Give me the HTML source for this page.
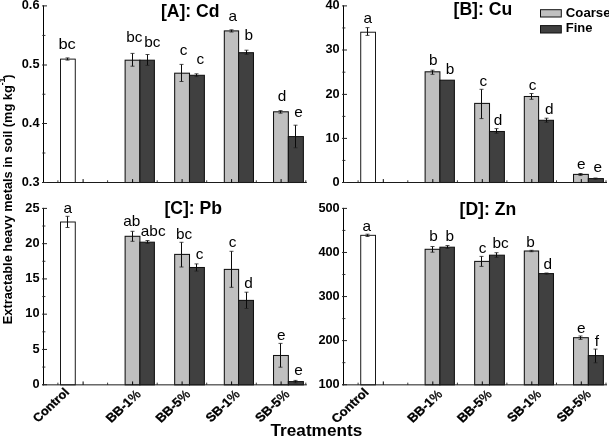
<!DOCTYPE html>
<html lang="en"><head><meta charset="utf-8"><title>Extractable heavy metals in soil</title>
<style>
html,body{margin:0;padding:0;background:#fff;}
body{width:609px;height:436px;overflow:hidden;}
svg{display:block;font-family:"Liberation Sans",Arial,Helvetica,sans-serif;fill:#000;}
</style></head><body>
<svg width="609" height="436" viewBox="0 0 609 436">
<rect width="609" height="436" fill="#fff"/>
<rect x="60.55" y="59.10" width="14.70" height="123.40" fill="#fff" stroke="#000" stroke-width="0.9"/>
<line x1="67.50" y1="57.90" x2="67.50" y2="60.10" stroke="#0a0a0a" stroke-width="1"/>
<line x1="65.50" y1="57.90" x2="69.50" y2="57.90" stroke="#222" stroke-width="0.8"/>
<line x1="65.50" y1="60.10" x2="69.50" y2="60.10" stroke="#222" stroke-width="0.8"/>
<rect x="125.12" y="60.20" width="14.78" height="122.30" fill="#c0c0c0" stroke="#111" stroke-width="1.05"/>
<rect x="139.90" y="60.20" width="14.48" height="122.30" fill="#404040" stroke="#111" stroke-width="1.05"/>
<line x1="132.50" y1="53.40" x2="132.50" y2="66.20" stroke="#0a0a0a" stroke-width="1"/>
<line x1="130.50" y1="53.40" x2="134.50" y2="53.40" stroke="#222" stroke-width="0.8"/>
<line x1="130.50" y1="66.20" x2="134.50" y2="66.20" stroke="#222" stroke-width="0.8"/>
<line x1="147.50" y1="54.50" x2="147.50" y2="65.40" stroke="#0a0a0a" stroke-width="1"/>
<line x1="145.50" y1="54.50" x2="149.50" y2="54.50" stroke="#222" stroke-width="0.8"/>
<line x1="145.50" y1="65.40" x2="149.50" y2="65.40" stroke="#222" stroke-width="0.8"/>
<rect x="174.67" y="73.20" width="14.83" height="109.30" fill="#c0c0c0" stroke="#111" stroke-width="1.05"/>
<rect x="189.50" y="75.30" width="14.88" height="107.20" fill="#404040" stroke="#111" stroke-width="1.05"/>
<line x1="181.50" y1="64.40" x2="181.50" y2="81.50" stroke="#0a0a0a" stroke-width="1"/>
<line x1="179.50" y1="64.40" x2="183.50" y2="64.40" stroke="#222" stroke-width="0.8"/>
<line x1="179.50" y1="81.50" x2="183.50" y2="81.50" stroke="#222" stroke-width="0.8"/>
<line x1="196.50" y1="73.80" x2="196.50" y2="76.60" stroke="#0a0a0a" stroke-width="1"/>
<line x1="194.50" y1="73.80" x2="198.50" y2="73.80" stroke="#222" stroke-width="0.8"/>
<line x1="194.50" y1="76.60" x2="198.50" y2="76.60" stroke="#222" stroke-width="0.8"/>
<rect x="224.32" y="30.90" width="14.28" height="151.60" fill="#c0c0c0" stroke="#111" stroke-width="1.05"/>
<rect x="238.60" y="52.70" width="14.88" height="129.80" fill="#404040" stroke="#111" stroke-width="1.05"/>
<line x1="231.50" y1="29.80" x2="231.50" y2="32.00" stroke="#0a0a0a" stroke-width="1"/>
<line x1="229.50" y1="29.80" x2="233.50" y2="29.80" stroke="#222" stroke-width="0.8"/>
<line x1="229.50" y1="32.00" x2="233.50" y2="32.00" stroke="#222" stroke-width="0.8"/>
<line x1="246.50" y1="50.20" x2="246.50" y2="54.40" stroke="#0a0a0a" stroke-width="1"/>
<line x1="244.50" y1="50.20" x2="248.50" y2="50.20" stroke="#222" stroke-width="0.8"/>
<line x1="244.50" y1="54.40" x2="248.50" y2="54.40" stroke="#222" stroke-width="0.8"/>
<rect x="273.52" y="111.80" width="14.83" height="70.70" fill="#c0c0c0" stroke="#111" stroke-width="1.05"/>
<rect x="288.35" y="136.60" width="15.03" height="45.90" fill="#404040" stroke="#111" stroke-width="1.05"/>
<line x1="280.50" y1="110.60" x2="280.50" y2="113.20" stroke="#0a0a0a" stroke-width="1"/>
<line x1="278.50" y1="110.60" x2="282.50" y2="110.60" stroke="#222" stroke-width="0.8"/>
<line x1="278.50" y1="113.20" x2="282.50" y2="113.20" stroke="#222" stroke-width="0.8"/>
<line x1="295.50" y1="125.20" x2="295.50" y2="147.80" stroke="#0a0a0a" stroke-width="1"/>
<line x1="293.50" y1="125.20" x2="297.50" y2="125.20" stroke="#222" stroke-width="0.8"/>
<line x1="293.50" y1="147.80" x2="297.50" y2="147.80" stroke="#222" stroke-width="0.8"/>
<line x1="43.50" y1="5.40" x2="43.50" y2="183.00" stroke="#000" stroke-width="1"/>
<line x1="42.20" y1="182.50" x2="306.80" y2="182.50" stroke="#1a1a1a" stroke-width="1"/>
<line x1="42.10" y1="5.90" x2="47.00" y2="5.90" stroke="#222" stroke-width="1"/>
<line x1="42.30" y1="35.45" x2="45.40" y2="35.45" stroke="#222" stroke-width="0.9"/>
<text transform="translate(39.50,9.00) scale(0.96,1)" font-size="13.3" font-weight="bold" text-anchor="end">0.6</text>
<line x1="42.10" y1="65.00" x2="47.00" y2="65.00" stroke="#222" stroke-width="1"/>
<line x1="42.30" y1="94.25" x2="45.40" y2="94.25" stroke="#222" stroke-width="0.9"/>
<text transform="translate(39.50,68.10) scale(0.96,1)" font-size="13.3" font-weight="bold" text-anchor="end">0.5</text>
<line x1="42.10" y1="123.50" x2="47.00" y2="123.50" stroke="#222" stroke-width="1"/>
<line x1="42.30" y1="153.00" x2="45.40" y2="153.00" stroke="#222" stroke-width="0.9"/>
<text transform="translate(39.50,126.60) scale(0.96,1)" font-size="13.3" font-weight="bold" text-anchor="end">0.4</text>
<line x1="42.10" y1="182.50" x2="47.00" y2="182.50" stroke="#222" stroke-width="1"/>
<text transform="translate(39.50,185.60) scale(0.96,1)" font-size="13.3" font-weight="bold" text-anchor="end">0.3</text>
<line x1="83.10" y1="182.50" x2="83.10" y2="179.10" stroke="#000" stroke-width="1"/>
<line x1="132.60" y1="182.50" x2="132.60" y2="179.10" stroke="#000" stroke-width="1"/>
<line x1="182.10" y1="182.50" x2="182.10" y2="179.10" stroke="#000" stroke-width="1"/>
<line x1="231.60" y1="182.50" x2="231.60" y2="179.10" stroke="#000" stroke-width="1"/>
<line x1="281.10" y1="182.50" x2="281.10" y2="179.10" stroke="#000" stroke-width="1"/>
<line x1="57.90" y1="182.50" x2="57.90" y2="180.30" stroke="#222" stroke-width="0.9"/>
<line x1="107.60" y1="182.50" x2="107.60" y2="180.30" stroke="#222" stroke-width="0.9"/>
<line x1="157.20" y1="182.50" x2="157.20" y2="180.30" stroke="#222" stroke-width="0.9"/>
<line x1="206.70" y1="182.50" x2="206.70" y2="180.30" stroke="#222" stroke-width="0.9"/>
<line x1="256.30" y1="182.50" x2="256.30" y2="180.30" stroke="#222" stroke-width="0.9"/>
<line x1="305.80" y1="182.50" x2="305.80" y2="180.30" stroke="#222" stroke-width="0.9"/>
<text transform="translate(67.10,48.60) scale(1.135,1)" font-size="14.5" font-weight="normal" text-anchor="middle">bc</text>
<text transform="translate(134.30,41.80) scale(1.06,1)" font-size="14.5" font-weight="normal" text-anchor="middle">bc</text>
<text transform="translate(152.30,46.50) scale(1.06,1)" font-size="14.5" font-weight="normal" text-anchor="middle">bc</text>
<text transform="translate(183.70,55.20) scale(1.06,1)" font-size="14.5" font-weight="normal" text-anchor="middle">c</text>
<text transform="translate(200.30,63.50) scale(1.06,1)" font-size="14.5" font-weight="normal" text-anchor="middle">c</text>
<text transform="translate(232.70,20.90) scale(1.06,1)" font-size="14.5" font-weight="normal" text-anchor="middle">a</text>
<text transform="translate(248.80,40.20) scale(1.06,1)" font-size="14.5" font-weight="normal" text-anchor="middle">b</text>
<text transform="translate(282.00,101.30) scale(1.06,1)" font-size="14.5" font-weight="normal" text-anchor="middle">d</text>
<text transform="translate(298.50,117.20) scale(1.06,1)" font-size="14.5" font-weight="normal" text-anchor="middle">e</text>
<text transform="translate(190.25,16.90) scale(1.0,1)" font-size="17.6" font-weight="bold" text-anchor="middle">[A]: Cd</text>
<rect x="360.75" y="32.20" width="14.70" height="150.30" fill="#fff" stroke="#000" stroke-width="0.9"/>
<line x1="367.50" y1="27.60" x2="367.50" y2="35.40" stroke="#0a0a0a" stroke-width="1"/>
<line x1="365.50" y1="27.60" x2="369.50" y2="27.60" stroke="#222" stroke-width="0.8"/>
<line x1="365.50" y1="35.40" x2="369.50" y2="35.40" stroke="#222" stroke-width="0.8"/>
<rect x="425.12" y="71.80" width="14.78" height="110.70" fill="#c0c0c0" stroke="#111" stroke-width="1.05"/>
<rect x="439.90" y="80.20" width="14.48" height="102.30" fill="#404040" stroke="#111" stroke-width="1.05"/>
<line x1="432.50" y1="70.20" x2="432.50" y2="74.30" stroke="#0a0a0a" stroke-width="1"/>
<line x1="430.50" y1="70.20" x2="434.50" y2="70.20" stroke="#222" stroke-width="0.8"/>
<line x1="430.50" y1="74.30" x2="434.50" y2="74.30" stroke="#222" stroke-width="0.8"/>
<rect x="474.67" y="103.40" width="14.83" height="79.10" fill="#c0c0c0" stroke="#111" stroke-width="1.05"/>
<rect x="489.50" y="131.50" width="14.88" height="51.00" fill="#404040" stroke="#111" stroke-width="1.05"/>
<line x1="481.50" y1="89.30" x2="481.50" y2="118.60" stroke="#0a0a0a" stroke-width="1"/>
<line x1="479.50" y1="89.30" x2="483.50" y2="89.30" stroke="#222" stroke-width="0.8"/>
<line x1="479.50" y1="118.60" x2="483.50" y2="118.60" stroke="#222" stroke-width="0.8"/>
<line x1="496.50" y1="128.60" x2="496.50" y2="133.30" stroke="#0a0a0a" stroke-width="1"/>
<line x1="494.50" y1="128.60" x2="498.50" y2="128.60" stroke="#222" stroke-width="0.8"/>
<line x1="494.50" y1="133.30" x2="498.50" y2="133.30" stroke="#222" stroke-width="0.8"/>
<rect x="524.32" y="96.50" width="14.28" height="86.00" fill="#c0c0c0" stroke="#111" stroke-width="1.05"/>
<rect x="538.60" y="120.30" width="14.88" height="62.20" fill="#404040" stroke="#111" stroke-width="1.05"/>
<line x1="531.50" y1="93.50" x2="531.50" y2="99.30" stroke="#0a0a0a" stroke-width="1"/>
<line x1="529.50" y1="93.50" x2="533.50" y2="93.50" stroke="#222" stroke-width="0.8"/>
<line x1="529.50" y1="99.30" x2="533.50" y2="99.30" stroke="#222" stroke-width="0.8"/>
<line x1="546.50" y1="118.20" x2="546.50" y2="122.30" stroke="#0a0a0a" stroke-width="1"/>
<line x1="544.50" y1="118.20" x2="548.50" y2="118.20" stroke="#222" stroke-width="0.8"/>
<line x1="544.50" y1="122.30" x2="548.50" y2="122.30" stroke="#222" stroke-width="0.8"/>
<rect x="573.52" y="174.40" width="14.83" height="8.10" fill="#c0c0c0" stroke="#111" stroke-width="1.05"/>
<rect x="588.35" y="178.60" width="15.03" height="3.90" fill="#404040" stroke="#111" stroke-width="1.05"/>
<line x1="580.50" y1="173.50" x2="580.50" y2="175.40" stroke="#0a0a0a" stroke-width="1"/>
<line x1="578.50" y1="173.50" x2="582.50" y2="173.50" stroke="#222" stroke-width="0.8"/>
<line x1="578.50" y1="175.40" x2="582.50" y2="175.40" stroke="#222" stroke-width="0.8"/>
<line x1="595.50" y1="178.00" x2="595.50" y2="179.20" stroke="#0a0a0a" stroke-width="1"/>
<line x1="593.50" y1="178.00" x2="597.50" y2="178.00" stroke="#222" stroke-width="0.8"/>
<line x1="593.50" y1="179.20" x2="597.50" y2="179.20" stroke="#222" stroke-width="0.8"/>
<line x1="343.50" y1="5.40" x2="343.50" y2="183.00" stroke="#000" stroke-width="1"/>
<line x1="342.20" y1="182.50" x2="607.00" y2="182.50" stroke="#1a1a1a" stroke-width="1"/>
<line x1="342.10" y1="5.90" x2="347.00" y2="5.90" stroke="#222" stroke-width="1"/>
<line x1="342.30" y1="27.95" x2="345.40" y2="27.95" stroke="#222" stroke-width="0.9"/>
<text transform="translate(339.70,9.00) scale(0.96,1)" font-size="13.3" font-weight="bold" text-anchor="end">40</text>
<line x1="342.10" y1="50.00" x2="347.00" y2="50.00" stroke="#222" stroke-width="1"/>
<line x1="342.30" y1="72.20" x2="345.40" y2="72.20" stroke="#222" stroke-width="0.9"/>
<text transform="translate(339.70,53.10) scale(0.96,1)" font-size="13.3" font-weight="bold" text-anchor="end">30</text>
<line x1="342.10" y1="94.40" x2="347.00" y2="94.40" stroke="#222" stroke-width="1"/>
<line x1="342.30" y1="116.40" x2="345.40" y2="116.40" stroke="#222" stroke-width="0.9"/>
<text transform="translate(339.70,97.50) scale(0.96,1)" font-size="13.3" font-weight="bold" text-anchor="end">20</text>
<line x1="342.10" y1="138.40" x2="347.00" y2="138.40" stroke="#222" stroke-width="1"/>
<line x1="342.30" y1="160.45" x2="345.40" y2="160.45" stroke="#222" stroke-width="0.9"/>
<text transform="translate(339.70,141.50) scale(0.96,1)" font-size="13.3" font-weight="bold" text-anchor="end">10</text>
<line x1="342.10" y1="182.50" x2="347.00" y2="182.50" stroke="#222" stroke-width="1"/>
<text transform="translate(339.70,185.60) scale(0.96,1)" font-size="13.3" font-weight="bold" text-anchor="end">0</text>
<line x1="383.30" y1="182.50" x2="383.30" y2="179.10" stroke="#000" stroke-width="1"/>
<line x1="432.80" y1="182.50" x2="432.80" y2="179.10" stroke="#000" stroke-width="1"/>
<line x1="482.30" y1="182.50" x2="482.30" y2="179.10" stroke="#000" stroke-width="1"/>
<line x1="531.80" y1="182.50" x2="531.80" y2="179.10" stroke="#000" stroke-width="1"/>
<line x1="581.30" y1="182.50" x2="581.30" y2="179.10" stroke="#000" stroke-width="1"/>
<line x1="358.10" y1="182.50" x2="358.10" y2="180.30" stroke="#222" stroke-width="0.9"/>
<line x1="407.80" y1="182.50" x2="407.80" y2="180.30" stroke="#222" stroke-width="0.9"/>
<line x1="457.40" y1="182.50" x2="457.40" y2="180.30" stroke="#222" stroke-width="0.9"/>
<line x1="506.90" y1="182.50" x2="506.90" y2="180.30" stroke="#222" stroke-width="0.9"/>
<line x1="556.50" y1="182.50" x2="556.50" y2="180.30" stroke="#222" stroke-width="0.9"/>
<line x1="606.00" y1="182.50" x2="606.00" y2="180.30" stroke="#222" stroke-width="0.9"/>
<text transform="translate(367.90,22.70) scale(1.06,1)" font-size="14.5" font-weight="normal" text-anchor="middle">a</text>
<text transform="translate(433.30,65.40) scale(1.06,1)" font-size="14.5" font-weight="normal" text-anchor="middle">b</text>
<text transform="translate(450.00,74.10) scale(1.06,1)" font-size="14.5" font-weight="normal" text-anchor="middle">b</text>
<text transform="translate(483.40,85.70) scale(1.06,1)" font-size="14.5" font-weight="normal" text-anchor="middle">c</text>
<text transform="translate(498.10,125.00) scale(1.06,1)" font-size="14.5" font-weight="normal" text-anchor="middle">d</text>
<text transform="translate(532.60,89.90) scale(1.06,1)" font-size="14.5" font-weight="normal" text-anchor="middle">c</text>
<text transform="translate(549.20,114.20) scale(1.06,1)" font-size="14.5" font-weight="normal" text-anchor="middle">d</text>
<text transform="translate(581.20,169.20) scale(1.06,1)" font-size="14.5" font-weight="normal" text-anchor="middle">e</text>
<text transform="translate(597.70,171.70) scale(1.06,1)" font-size="14.5" font-weight="normal" text-anchor="middle">e</text>
<text transform="translate(482.85,14.80) scale(1.0,1)" font-size="17.6" font-weight="bold" text-anchor="middle">[B]: Cu</text>
<rect x="60.55" y="222.00" width="14.70" height="162.85" fill="#fff" stroke="#000" stroke-width="0.9"/>
<line x1="67.50" y1="216.30" x2="67.50" y2="227.50" stroke="#0a0a0a" stroke-width="1"/>
<line x1="65.50" y1="216.30" x2="69.50" y2="216.30" stroke="#222" stroke-width="0.8"/>
<line x1="65.50" y1="227.50" x2="69.50" y2="227.50" stroke="#222" stroke-width="0.8"/>
<rect x="125.12" y="236.30" width="14.78" height="148.55" fill="#c0c0c0" stroke="#111" stroke-width="1.05"/>
<rect x="139.90" y="242.20" width="14.48" height="142.65" fill="#404040" stroke="#111" stroke-width="1.05"/>
<line x1="132.50" y1="231.30" x2="132.50" y2="241.30" stroke="#0a0a0a" stroke-width="1"/>
<line x1="130.50" y1="231.30" x2="134.50" y2="231.30" stroke="#222" stroke-width="0.8"/>
<line x1="130.50" y1="241.30" x2="134.50" y2="241.30" stroke="#222" stroke-width="0.8"/>
<line x1="147.50" y1="240.50" x2="147.50" y2="243.50" stroke="#0a0a0a" stroke-width="1"/>
<line x1="145.50" y1="240.50" x2="149.50" y2="240.50" stroke="#222" stroke-width="0.8"/>
<line x1="145.50" y1="243.50" x2="149.50" y2="243.50" stroke="#222" stroke-width="0.8"/>
<rect x="174.67" y="254.40" width="14.83" height="130.45" fill="#c0c0c0" stroke="#111" stroke-width="1.05"/>
<rect x="189.50" y="267.50" width="14.88" height="117.35" fill="#404040" stroke="#111" stroke-width="1.05"/>
<line x1="181.50" y1="242.30" x2="181.50" y2="267.00" stroke="#0a0a0a" stroke-width="1"/>
<line x1="179.50" y1="242.30" x2="183.50" y2="242.30" stroke="#222" stroke-width="0.8"/>
<line x1="179.50" y1="267.00" x2="183.50" y2="267.00" stroke="#222" stroke-width="0.8"/>
<line x1="196.50" y1="263.90" x2="196.50" y2="271.10" stroke="#0a0a0a" stroke-width="1"/>
<line x1="194.50" y1="263.90" x2="198.50" y2="263.90" stroke="#222" stroke-width="0.8"/>
<line x1="194.50" y1="271.10" x2="198.50" y2="271.10" stroke="#222" stroke-width="0.8"/>
<rect x="224.32" y="269.40" width="14.28" height="115.45" fill="#c0c0c0" stroke="#111" stroke-width="1.05"/>
<rect x="238.60" y="300.40" width="14.88" height="84.45" fill="#404040" stroke="#111" stroke-width="1.05"/>
<line x1="231.50" y1="251.30" x2="231.50" y2="287.30" stroke="#0a0a0a" stroke-width="1"/>
<line x1="229.50" y1="251.30" x2="233.50" y2="251.30" stroke="#222" stroke-width="0.8"/>
<line x1="229.50" y1="287.30" x2="233.50" y2="287.30" stroke="#222" stroke-width="0.8"/>
<line x1="246.50" y1="292.20" x2="246.50" y2="308.50" stroke="#0a0a0a" stroke-width="1"/>
<line x1="244.50" y1="292.20" x2="248.50" y2="292.20" stroke="#222" stroke-width="0.8"/>
<line x1="244.50" y1="308.50" x2="248.50" y2="308.50" stroke="#222" stroke-width="0.8"/>
<rect x="273.52" y="355.50" width="14.83" height="29.35" fill="#c0c0c0" stroke="#111" stroke-width="1.05"/>
<rect x="288.35" y="381.60" width="15.03" height="3.25" fill="#404040" stroke="#111" stroke-width="1.05"/>
<line x1="280.50" y1="343.40" x2="280.50" y2="367.20" stroke="#0a0a0a" stroke-width="1"/>
<line x1="278.50" y1="343.40" x2="282.50" y2="343.40" stroke="#222" stroke-width="0.8"/>
<line x1="278.50" y1="367.20" x2="282.50" y2="367.20" stroke="#222" stroke-width="0.8"/>
<line x1="295.50" y1="380.40" x2="295.50" y2="382.80" stroke="#0a0a0a" stroke-width="1"/>
<line x1="293.50" y1="380.40" x2="297.50" y2="380.40" stroke="#222" stroke-width="0.8"/>
<line x1="293.50" y1="382.80" x2="297.50" y2="382.80" stroke="#222" stroke-width="0.8"/>
<line x1="43.50" y1="207.90" x2="43.50" y2="385.35" stroke="#000" stroke-width="1"/>
<line x1="42.20" y1="384.85" x2="306.80" y2="384.85" stroke="#1a1a1a" stroke-width="1"/>
<line x1="42.10" y1="208.40" x2="47.00" y2="208.40" stroke="#222" stroke-width="1"/>
<line x1="42.30" y1="226.03" x2="45.40" y2="226.03" stroke="#222" stroke-width="0.9"/>
<text transform="translate(39.50,211.50) scale(0.96,1)" font-size="13.3" font-weight="bold" text-anchor="end">25</text>
<line x1="42.10" y1="243.66" x2="47.00" y2="243.66" stroke="#222" stroke-width="1"/>
<line x1="42.30" y1="261.29" x2="45.40" y2="261.29" stroke="#222" stroke-width="0.9"/>
<text transform="translate(39.50,246.76) scale(0.96,1)" font-size="13.3" font-weight="bold" text-anchor="end">20</text>
<line x1="42.10" y1="278.92" x2="47.00" y2="278.92" stroke="#222" stroke-width="1"/>
<line x1="42.30" y1="296.55" x2="45.40" y2="296.55" stroke="#222" stroke-width="0.9"/>
<text transform="translate(39.50,282.02) scale(0.96,1)" font-size="13.3" font-weight="bold" text-anchor="end">15</text>
<line x1="42.10" y1="314.18" x2="47.00" y2="314.18" stroke="#222" stroke-width="1"/>
<line x1="42.30" y1="331.81" x2="45.40" y2="331.81" stroke="#222" stroke-width="0.9"/>
<text transform="translate(39.50,317.28) scale(0.96,1)" font-size="13.3" font-weight="bold" text-anchor="end">10</text>
<line x1="42.10" y1="349.44" x2="47.00" y2="349.44" stroke="#222" stroke-width="1"/>
<line x1="42.30" y1="367.07" x2="45.40" y2="367.07" stroke="#222" stroke-width="0.9"/>
<text transform="translate(39.50,352.54) scale(0.96,1)" font-size="13.3" font-weight="bold" text-anchor="end">5</text>
<line x1="42.10" y1="384.70" x2="47.00" y2="384.70" stroke="#222" stroke-width="1"/>
<text transform="translate(39.50,387.80) scale(0.96,1)" font-size="13.3" font-weight="bold" text-anchor="end">0</text>
<line x1="83.10" y1="384.85" x2="83.10" y2="381.45" stroke="#000" stroke-width="1"/>
<line x1="132.60" y1="384.85" x2="132.60" y2="381.45" stroke="#000" stroke-width="1"/>
<line x1="182.10" y1="384.85" x2="182.10" y2="381.45" stroke="#000" stroke-width="1"/>
<line x1="231.60" y1="384.85" x2="231.60" y2="381.45" stroke="#000" stroke-width="1"/>
<line x1="281.10" y1="384.85" x2="281.10" y2="381.45" stroke="#000" stroke-width="1"/>
<line x1="57.90" y1="384.85" x2="57.90" y2="382.65" stroke="#222" stroke-width="0.9"/>
<line x1="107.60" y1="384.85" x2="107.60" y2="382.65" stroke="#222" stroke-width="0.9"/>
<line x1="157.20" y1="384.85" x2="157.20" y2="382.65" stroke="#222" stroke-width="0.9"/>
<line x1="206.70" y1="384.85" x2="206.70" y2="382.65" stroke="#222" stroke-width="0.9"/>
<line x1="256.30" y1="384.85" x2="256.30" y2="382.65" stroke="#222" stroke-width="0.9"/>
<line x1="305.80" y1="384.85" x2="305.80" y2="382.65" stroke="#222" stroke-width="0.9"/>
<text transform="translate(67.90,213.30) scale(1.06,1)" font-size="14.5" font-weight="normal" text-anchor="middle">a</text>
<text transform="translate(131.80,226.00) scale(1.06,1)" font-size="14.5" font-weight="normal" text-anchor="middle">ab</text>
<text transform="translate(153.20,235.50) scale(1.06,1)" font-size="14.5" font-weight="normal" text-anchor="middle">abc</text>
<text transform="translate(184.00,238.50) scale(1.06,1)" font-size="14.5" font-weight="normal" text-anchor="middle">bc</text>
<text transform="translate(199.50,258.60) scale(1.06,1)" font-size="14.5" font-weight="normal" text-anchor="middle">c</text>
<text transform="translate(232.70,246.80) scale(1.06,1)" font-size="14.5" font-weight="normal" text-anchor="middle">c</text>
<text transform="translate(248.50,288.10) scale(1.06,1)" font-size="14.5" font-weight="normal" text-anchor="middle">d</text>
<text transform="translate(281.20,339.60) scale(1.06,1)" font-size="14.5" font-weight="normal" text-anchor="middle">e</text>
<text transform="translate(298.50,374.90) scale(1.06,1)" font-size="14.5" font-weight="normal" text-anchor="middle">e</text>
<text transform="translate(193.25,214.20) scale(1.0,1)" font-size="17.6" font-weight="bold" text-anchor="middle">[C]: Pb</text>
<rect x="360.75" y="235.30" width="14.70" height="149.55" fill="#fff" stroke="#000" stroke-width="0.9"/>
<line x1="367.50" y1="234.20" x2="367.50" y2="236.50" stroke="#0a0a0a" stroke-width="1"/>
<line x1="365.50" y1="234.20" x2="369.50" y2="234.20" stroke="#222" stroke-width="0.8"/>
<line x1="365.50" y1="236.50" x2="369.50" y2="236.50" stroke="#222" stroke-width="0.8"/>
<rect x="425.12" y="249.30" width="14.78" height="135.55" fill="#c0c0c0" stroke="#111" stroke-width="1.05"/>
<rect x="439.90" y="247.20" width="14.48" height="137.65" fill="#404040" stroke="#111" stroke-width="1.05"/>
<line x1="432.50" y1="246.50" x2="432.50" y2="252.20" stroke="#0a0a0a" stroke-width="1"/>
<line x1="430.50" y1="246.50" x2="434.50" y2="246.50" stroke="#222" stroke-width="0.8"/>
<line x1="430.50" y1="252.20" x2="434.50" y2="252.20" stroke="#222" stroke-width="0.8"/>
<line x1="447.50" y1="245.50" x2="447.50" y2="248.50" stroke="#0a0a0a" stroke-width="1"/>
<line x1="445.50" y1="245.50" x2="449.50" y2="245.50" stroke="#222" stroke-width="0.8"/>
<line x1="445.50" y1="248.50" x2="449.50" y2="248.50" stroke="#222" stroke-width="0.8"/>
<rect x="474.67" y="261.40" width="14.83" height="123.45" fill="#c0c0c0" stroke="#111" stroke-width="1.05"/>
<rect x="489.50" y="255.20" width="14.88" height="129.65" fill="#404040" stroke="#111" stroke-width="1.05"/>
<line x1="481.50" y1="256.40" x2="481.50" y2="266.40" stroke="#0a0a0a" stroke-width="1"/>
<line x1="479.50" y1="256.40" x2="483.50" y2="256.40" stroke="#222" stroke-width="0.8"/>
<line x1="479.50" y1="266.40" x2="483.50" y2="266.40" stroke="#222" stroke-width="0.8"/>
<line x1="496.50" y1="252.70" x2="496.50" y2="257.40" stroke="#0a0a0a" stroke-width="1"/>
<line x1="494.50" y1="252.70" x2="498.50" y2="252.70" stroke="#222" stroke-width="0.8"/>
<line x1="494.50" y1="257.40" x2="498.50" y2="257.40" stroke="#222" stroke-width="0.8"/>
<rect x="524.32" y="251.00" width="14.28" height="133.85" fill="#c0c0c0" stroke="#111" stroke-width="1.05"/>
<rect x="538.60" y="273.60" width="14.88" height="111.25" fill="#404040" stroke="#111" stroke-width="1.05"/>
<line x1="531.50" y1="250.30" x2="531.50" y2="251.70" stroke="#0a0a0a" stroke-width="1"/>
<line x1="529.50" y1="250.30" x2="533.50" y2="250.30" stroke="#222" stroke-width="0.8"/>
<line x1="529.50" y1="251.70" x2="533.50" y2="251.70" stroke="#222" stroke-width="0.8"/>
<line x1="546.50" y1="273.00" x2="546.50" y2="274.20" stroke="#0a0a0a" stroke-width="1"/>
<line x1="544.50" y1="273.00" x2="548.50" y2="273.00" stroke="#222" stroke-width="0.8"/>
<line x1="544.50" y1="274.20" x2="548.50" y2="274.20" stroke="#222" stroke-width="0.8"/>
<rect x="573.52" y="337.70" width="14.83" height="47.15" fill="#c0c0c0" stroke="#111" stroke-width="1.05"/>
<rect x="588.35" y="355.60" width="15.03" height="29.25" fill="#404040" stroke="#111" stroke-width="1.05"/>
<line x1="580.50" y1="336.00" x2="580.50" y2="339.40" stroke="#0a0a0a" stroke-width="1"/>
<line x1="578.50" y1="336.00" x2="582.50" y2="336.00" stroke="#222" stroke-width="0.8"/>
<line x1="578.50" y1="339.40" x2="582.50" y2="339.40" stroke="#222" stroke-width="0.8"/>
<line x1="595.50" y1="349.10" x2="595.50" y2="362.80" stroke="#0a0a0a" stroke-width="1"/>
<line x1="593.50" y1="349.10" x2="597.50" y2="349.10" stroke="#222" stroke-width="0.8"/>
<line x1="593.50" y1="362.80" x2="597.50" y2="362.80" stroke="#222" stroke-width="0.8"/>
<line x1="343.50" y1="207.90" x2="343.50" y2="385.35" stroke="#000" stroke-width="1"/>
<line x1="342.20" y1="384.85" x2="607.00" y2="384.85" stroke="#1a1a1a" stroke-width="1"/>
<line x1="342.10" y1="208.40" x2="347.00" y2="208.40" stroke="#222" stroke-width="1"/>
<line x1="342.30" y1="230.44" x2="345.40" y2="230.44" stroke="#222" stroke-width="0.9"/>
<text transform="translate(339.70,211.50) scale(0.96,1)" font-size="13.3" font-weight="bold" text-anchor="end">500</text>
<line x1="342.10" y1="252.48" x2="347.00" y2="252.48" stroke="#222" stroke-width="1"/>
<line x1="342.30" y1="274.51" x2="345.40" y2="274.51" stroke="#222" stroke-width="0.9"/>
<text transform="translate(339.70,255.58) scale(0.96,1)" font-size="13.3" font-weight="bold" text-anchor="end">400</text>
<line x1="342.10" y1="296.55" x2="347.00" y2="296.55" stroke="#222" stroke-width="1"/>
<line x1="342.30" y1="318.59" x2="345.40" y2="318.59" stroke="#222" stroke-width="0.9"/>
<text transform="translate(339.70,299.65) scale(0.96,1)" font-size="13.3" font-weight="bold" text-anchor="end">300</text>
<line x1="342.10" y1="340.62" x2="347.00" y2="340.62" stroke="#222" stroke-width="1"/>
<line x1="342.30" y1="362.66" x2="345.40" y2="362.66" stroke="#222" stroke-width="0.9"/>
<text transform="translate(339.70,343.73) scale(0.96,1)" font-size="13.3" font-weight="bold" text-anchor="end">200</text>
<line x1="342.10" y1="384.70" x2="347.00" y2="384.70" stroke="#222" stroke-width="1"/>
<text transform="translate(339.70,387.80) scale(0.96,1)" font-size="13.3" font-weight="bold" text-anchor="end">100</text>
<line x1="383.30" y1="384.85" x2="383.30" y2="381.45" stroke="#000" stroke-width="1"/>
<line x1="432.80" y1="384.85" x2="432.80" y2="381.45" stroke="#000" stroke-width="1"/>
<line x1="482.30" y1="384.85" x2="482.30" y2="381.45" stroke="#000" stroke-width="1"/>
<line x1="531.80" y1="384.85" x2="531.80" y2="381.45" stroke="#000" stroke-width="1"/>
<line x1="581.30" y1="384.85" x2="581.30" y2="381.45" stroke="#000" stroke-width="1"/>
<line x1="358.10" y1="384.85" x2="358.10" y2="382.65" stroke="#222" stroke-width="0.9"/>
<line x1="407.80" y1="384.85" x2="407.80" y2="382.65" stroke="#222" stroke-width="0.9"/>
<line x1="457.40" y1="384.85" x2="457.40" y2="382.65" stroke="#222" stroke-width="0.9"/>
<line x1="506.90" y1="384.85" x2="506.90" y2="382.65" stroke="#222" stroke-width="0.9"/>
<line x1="556.50" y1="384.85" x2="556.50" y2="382.65" stroke="#222" stroke-width="0.9"/>
<line x1="606.00" y1="384.85" x2="606.00" y2="382.65" stroke="#222" stroke-width="0.9"/>
<text transform="translate(366.90,230.80) scale(1.06,1)" font-size="14.5" font-weight="normal" text-anchor="middle">a</text>
<text transform="translate(433.50,240.90) scale(1.06,1)" font-size="14.5" font-weight="normal" text-anchor="middle">b</text>
<text transform="translate(449.80,240.90) scale(1.06,1)" font-size="14.5" font-weight="normal" text-anchor="middle">b</text>
<text transform="translate(482.70,253.00) scale(1.06,1)" font-size="14.5" font-weight="normal" text-anchor="middle">c</text>
<text transform="translate(500.50,248.10) scale(1.06,1)" font-size="14.5" font-weight="normal" text-anchor="middle">bc</text>
<text transform="translate(530.60,246.50) scale(1.06,1)" font-size="14.5" font-weight="normal" text-anchor="middle">b</text>
<text transform="translate(547.90,268.90) scale(1.06,1)" font-size="14.5" font-weight="normal" text-anchor="middle">d</text>
<text transform="translate(581.20,333.10) scale(1.06,1)" font-size="14.5" font-weight="normal" text-anchor="middle">e</text>
<text transform="translate(596.80,346.00) scale(1.06,1)" font-size="14.5" font-weight="normal" text-anchor="middle">f</text>
<text transform="translate(487.85,214.60) scale(1.0,1)" font-size="17.6" font-weight="bold" text-anchor="middle">[D]: Zn</text>
<rect x="540.5" y="9.7" width="20.8" height="7.3" fill="#c0c0c0" stroke="#111" stroke-width="1"/>
<rect x="540.5" y="25.6" width="20.8" height="7.4" fill="#404040" stroke="#111" stroke-width="1"/>
<text transform="translate(565.80,16.50) scale(1.0,1)" font-size="13.2" font-weight="bold" text-anchor="start">Coarse</text>
<text transform="translate(565.80,32.20) scale(0.985,1)" font-size="13.2" font-weight="bold" text-anchor="start">Fine</text>
<text transform="translate(70.00,393.00) scale(1.07,1) rotate(-45)" font-size="11.9" font-weight="bold" stroke="#000" stroke-width="0.3" text-anchor="end">Control</text>
<text transform="translate(141.50,395.00) scale(1.07,1) rotate(-45)" font-size="12.4" font-weight="bold" stroke="#000" stroke-width="0.3" text-anchor="end">BB-1<tspan font-weight="normal" stroke="#000" stroke-width="0.35">%</tspan></text>
<text transform="translate(191.10,395.00) scale(1.07,1) rotate(-45)" font-size="12.4" font-weight="bold" stroke="#000" stroke-width="0.3" text-anchor="end">BB-5<tspan font-weight="normal" stroke="#000" stroke-width="0.35">%</tspan></text>
<text transform="translate(240.70,395.00) scale(1.07,1) rotate(-45)" font-size="12.4" font-weight="bold" stroke="#000" stroke-width="0.3" text-anchor="end">SB-1<tspan font-weight="normal" stroke="#000" stroke-width="0.35">%</tspan></text>
<text transform="translate(290.30,395.00) scale(1.07,1) rotate(-45)" font-size="12.4" font-weight="bold" stroke="#000" stroke-width="0.3" text-anchor="end">SB-5<tspan font-weight="normal" stroke="#000" stroke-width="0.35">%</tspan></text>
<text transform="translate(369.50,393.00) scale(1.07,1) rotate(-45)" font-size="12.2" font-weight="bold" stroke="#000" stroke-width="0.3" text-anchor="end">Control</text>
<text transform="translate(443.00,395.00) scale(1.07,1) rotate(-45)" font-size="12.4" font-weight="bold" stroke="#000" stroke-width="0.3" text-anchor="end">BB-1<tspan font-weight="normal" stroke="#000" stroke-width="0.35">%</tspan></text>
<text transform="translate(492.60,395.00) scale(1.07,1) rotate(-45)" font-size="12.4" font-weight="bold" stroke="#000" stroke-width="0.3" text-anchor="end">BB-5<tspan font-weight="normal" stroke="#000" stroke-width="0.35">%</tspan></text>
<text transform="translate(542.20,395.00) scale(1.07,1) rotate(-45)" font-size="12.4" font-weight="bold" stroke="#000" stroke-width="0.3" text-anchor="end">SB-1<tspan font-weight="normal" stroke="#000" stroke-width="0.35">%</tspan></text>
<text transform="translate(591.80,395.00) scale(1.07,1) rotate(-45)" font-size="12.4" font-weight="bold" stroke="#000" stroke-width="0.3" text-anchor="end">SB-5<tspan font-weight="normal" stroke="#000" stroke-width="0.35">%</tspan></text>
<text transform="translate(316.40,435.60) scale(1.075,1)" font-size="16" font-weight="bold" text-anchor="middle">Treatments</text>
<text transform="translate(12.3,324.2) rotate(-90)" font-size="12.8" font-weight="bold" text-anchor="start">Extractable heavy metals in soil (mg kg<tspan font-size="8.5" dy="-7">-1</tspan><tspan dy="7" dx="-1">)</tspan></text>
</svg>
</body></html>
